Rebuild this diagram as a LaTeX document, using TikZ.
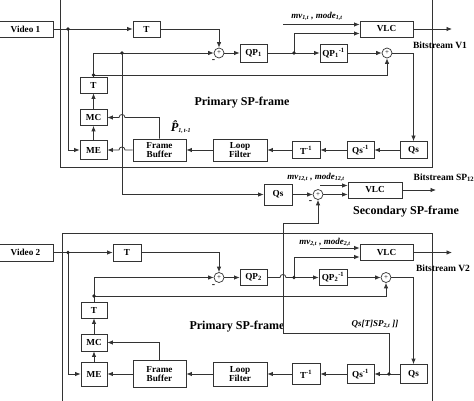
\documentclass[tikz,border=0pt]{standalone}
\usepackage{fontspec}
\setmainfont{Liberation Serif}
\usetikzlibrary{arrows.meta,calc}
\begin{document}
\begin{tikzpicture}[x=1pt,y=-1pt,
  ln/.style={draw=black!80, line width=0.8pt},
  arr/.style={ln, -{Latex[length=5.5pt,width=4.5pt]}},
  blk/.style={draw=black!80, line width=0.8pt, fill=white, font=\fontsize{9.2}{10}\selectfont\bfseries, inner sep=0pt, align=center},
  sumnode/.style={circle, draw=black!80, line width=0.7pt, fill=white, minimum size=10pt, inner sep=0pt, font=\fontsize{7}{7}\selectfont},
  lbl/.style={font=\fontsize{9.5}{11}\selectfont\bfseries, inner sep=0pt},
  biglbl/.style={font=\fontsize{12}{14}\selectfont\bfseries, inner sep=0pt},
  itl/.style={font=\fontsize{9}{10}\selectfont\bfseries\itshape, inner sep=0pt},
  minus/.style={font=\fontsize{10}{10}\selectfont\bfseries, inner sep=0.5pt}]
\clip (0,0) rectangle (474,401);
\fill[white] (0,0) rectangle (474,401);
% frames
\draw[ln] (60,-5) rectangle (432,167);
\draw[ln] (62,233) rectangle (432,410);

% ---------- top primary ----------
\node[blk, minimum width=55pt, minimum height=16pt] (V1) at (25.5,29) {Video 1};
\node[blk, minimum width=27pt, minimum height=16pt] (T1) at (146.5,29) {T};
\node[sumnode] (S1) at (219,53) {+};
\node[blk, minimum width=27pt, minimum height=18pt] (QP1) at (253.5,53) {QP\textsubscript{1}};
\node[blk, minimum width=27pt, minimum height=18pt] (QPi1) at (333.5,53) {QP\textsubscript{1}\textsuperscript{-1}};
\node[sumnode] (S2) at (387,53) {+};
\node[blk, minimum width=53pt, minimum height=16pt] (VLC1) at (386.5,29) {VLC};
\node[blk, minimum width=27pt, minimum height=16pt] (TF1) at (93.5,85) {T};
\node[blk, minimum width=27pt, minimum height=16pt] (MC1) at (93.5,117.5) {MC};
\node[blk, minimum width=27pt, minimum height=19pt] (ME1) at (93.5,150) {ME};
\node[blk, minimum width=53pt, minimum height=22pt] (FB1) at (159.5,150) {Frame\\[-1pt]Buffer};
\node[blk, minimum width=54pt, minimum height=22pt] (LF1) at (240,150) {Loop\\[-1pt]Filter};
\node[blk, minimum width=28pt, minimum height=17pt] (TI1) at (306,150) {T\textsuperscript{-1}};
\node[blk, minimum width=27pt, minimum height=17pt] (QSI1) at (360.5,150) {Qs\textsuperscript{-1}};
\node[blk, minimum width=27pt, minimum height=17pt] (QS1) at (413.5,150) {Qs};
\node[itl] (mvA) at (317,16) {mv\textsubscript{1,t} , mode\textsubscript{1,t}};
\node[itl] (phat) at (181,127) {{\fontsize{12.5}{12}\selectfont\^{P}}\textsubscript{1,\,t-1}};
\node[biglbl] (PR1) at (242,103) {Primary SP-frame};
\node[lbl] (BV1) at (440,45) {Bitstream V1};
\node[minus] (m1) at (213.5,61) {-};

\coordinate (d1) at (68,29);
\coordinate (d2) at (93.5,75);
\coordinate (d3) at (122,53);
\coordinate (d4) at (294,53);
\coordinate (mv1s) at (283,24.5);
\coordinate (o1) at (452,29);

\draw[arr] (V1.east) -- (T1.west);
\draw[arr] (d1) |- (ME1.west);
\draw[arr] (T1.east) -| (S1.north);
\draw[arr] (TF1.north) |- (S1.west);
\draw[arr] (d2) -| (S2.south);
\draw[arr] (S1.east) -- (QP1.west);
\draw[arr] (QP1.east) -- (QPi1.west);
\draw[arr] (d4) |- ($(VLC1.west)+(0,4.5)$);
\draw[arr] (mv1s) -- ($(VLC1.west)+(0,-4.5)$);
\draw[arr] (QPi1.east) -- (S2.west);
\draw[arr] (S2.east) -| (QS1.north);
\draw[arr] (QS1.west) -- (QSI1.east);
\draw[arr] (QSI1.west) -- (TI1.east);
\draw[arr] (TI1.west) -- (LF1.east);
\draw[arr] (LF1.west) -- (FB1.east);
\draw[arr] (FB1.west) -- (125,150) .. controls (125,146) and (119,146) .. (119,150) -- (ME1.east);
\draw[arr] (FB1.north) |- (125,117.5) .. controls (125,113.5) and (119,113.5) .. (119,117.5) -- (MC1.east);
\draw[arr] (ME1.north) -- (MC1.south);
\draw[arr] (MC1.north) -- (TF1.south);
\draw[arr] (VLC1.east) -- (o1);
\foreach \p in {d1,d2,d3,d4} \fill[black!85] (\p) circle (1.8pt);

% ---------- secondary ----------
\node[blk, minimum width=28pt, minimum height=21pt] (QS2) at (278,194.5) {Qs};
\node[sumnode] (S3) at (318,194.5) {+};
\node[blk, minimum width=54pt, minimum height=16pt] (VLC2) at (375,190) {VLC};
\node[itl] (mvB) at (316,177) {mv\textsubscript{12,t} , mode\textsubscript{12,t}};
\node[lbl] (BSP) at (444,178) {Bitstream SP\textsubscript{12}};
\node[biglbl] (SEC) at (406,212) {Secondary SP-frame};
\node[minus] (m3) at (310.5,202.5) {-};
\coordinate (mv2s) at (320,185.5);
\coordinate (o2) at (436,190);

\draw[arr] (d3) |- (QS2.west);
\draw[arr] (QS2.east) -- (S3.west);
\draw[arr] (S3.east) -- (S3.east -| VLC2.west);
\draw[arr] (mv2s) -- (mv2s -| VLC2.west);
\draw[arr] (VLC2.east) -- (o2);

% ---------- bottom primary ----------
\node[blk, minimum width=55pt, minimum height=17pt] (V2) at (25.5,252.5) {Video 2};
\node[blk, minimum width=28pt, minimum height=17pt] (T2) at (127,252.5) {T};
\node[sumnode] (S4) at (219,277.5) {+};
\node[blk, minimum width=27pt, minimum height=16pt] (QP2) at (253.5,277.5) {QP\textsubscript{2}};
\node[blk, minimum width=28pt, minimum height=16pt] (QPi2) at (333,277.5) {QP\textsubscript{2}\textsuperscript{-1}};
\node[sumnode] (S5) at (386,277.5) {+};
\node[blk, minimum width=53pt, minimum height=16pt] (VLC3) at (386.5,252.5) {VLC};
\node[blk, minimum width=26pt, minimum height=16pt] (TF2) at (94,310) {T};
\node[blk, minimum width=26pt, minimum height=17pt] (MC2) at (94,342.5) {MC};
\node[blk, minimum width=26pt, minimum height=24pt] (ME2) at (94,374) {ME};
\node[blk, minimum width=53pt, minimum height=27pt] (FB2) at (159.5,374) {Frame\\[-1pt]Buffer};
\node[blk, minimum width=54pt, minimum height=24pt] (LF2) at (240,374) {Loop\\[-1pt]Filter};
\node[blk, minimum width=28pt, minimum height=21pt] (TI2) at (306,374) {T\textsuperscript{-1}};
\node[blk, minimum width=27pt, minimum height=19pt] (QSI2) at (360.5,374) {Qs\textsuperscript{-1}};
\node[blk, minimum width=27pt, minimum height=19pt] (QS3) at (413.5,374) {Qs};
\node[itl] (mvC) at (325,242) {mv\textsubscript{2,t} , mode\textsubscript{2,t}};
\node[itl] (qst) at (375,324) {Qs[T]SP\textsubscript{2,t} ]]};
\node[biglbl] (PR2) at (237,327) {Primary SP-frame};
\node[lbl] (BV2) at (443,268) {Bitstream V2};
\node[minus] (m4) at (213.5,286) {-};

\coordinate (d7) at (68,252.5);
\coordinate (d8) at (94,296);
\coordinate (d6) at (294,277.5);
\coordinate (d5) at (389,374);
\coordinate (c1) at (283,333);
\coordinate (c2) at (283,223);
\coordinate (mv3s) at (320,248);
\coordinate (o3) at (452,252.5);

\draw[arr] (V2.east) -- (T2.west);
\draw[arr] (d7) |- (ME2.west);
\draw[arr] (T2.east) -| (S4.north);
\draw[arr] (TF2.north) |- (S4.west);
\draw[arr] (d8) -| (S5.south);
\draw[arr] (S4.east) -- (QP2.west);
\draw[arr] (QP2.east) -- (280,277.5) .. controls (280,273.5) and (286,273.5) .. (286,277.5) -- (QPi2.west);
\draw[arr] (d6) |- ($(VLC3.west)+(0,4.5)$);
\draw[arr] (mv3s) -- (mv3s -| VLC3.west);
\draw[arr] (QPi2.east) -- (S5.west);
\draw[arr] (S5.east) -| (QS3.north);
\draw[arr] (QS3.west) -- (QSI2.east);
\draw[arr] (QSI2.west) -- (TI2.east);
\draw[arr] (TI2.west) -- (LF2.east);
\draw[arr] (LF2.west) -- (FB2.east);
\draw[arr] (FB2.west) -- (ME2.east);
\draw[arr] (FB2.north) |- (MC2.east);
\draw[arr] (ME2.north) -- (MC2.south);
\draw[arr] (MC2.north) -- (TF2.south);
\draw[arr] (VLC3.east) -- (o3);
\draw[arr] (d5) |- (c1) -- (c2) -| (S3.south);
\foreach \p in {d7,d8,d6,d5} \fill[black!85] (\p) circle (1.8pt);
\end{tikzpicture}
\end{document}
